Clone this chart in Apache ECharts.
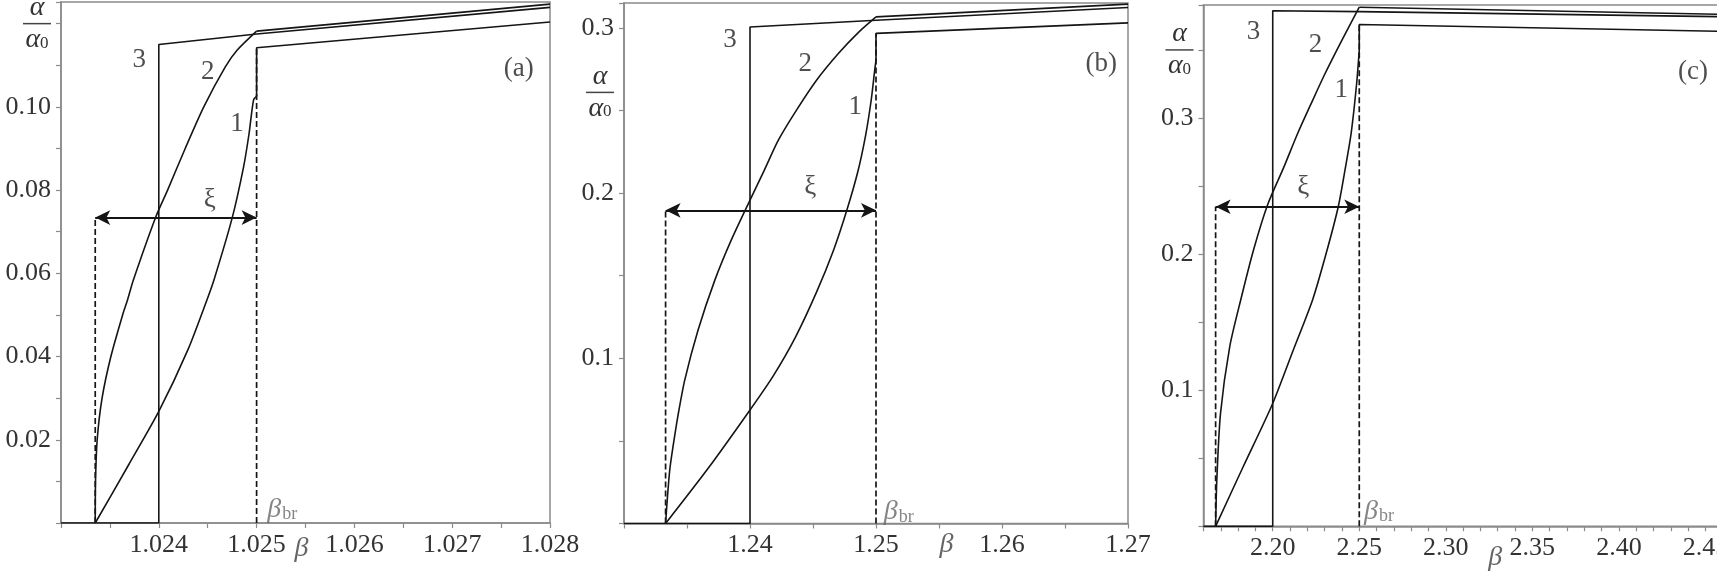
<!DOCTYPE html>
<html><head><meta charset="utf-8">
<script src="https://cdn.jsdelivr.net/npm/echarts@6/dist/echarts.min.js"></script>
<style>html,body{margin:0;padding:0;background:#fff}#c{width:1717px;height:575px}</style>
</head><body><div id="c"></div>
<script>
// ---------- Panel (a) ----------
const aCurve1 = [[1.02335,0],[1.023692,0.014],[1.024,0.0268],[1.024297,0.0416],[1.024492,0.0536],[1.024564,0.0584],[1.024749,0.0732],[1.024867,0.0856],[1.024923,0.0936],[1.024969,0.1017],[1.025,0.1025]];
const aCurve1Top = [[1.025,0.1025],[1.025,0.1142],[1.028,0.1204]];
const aCurve2 = [[1.02335,0],[1.023353,0.01],[1.02337,0.02],[1.02342,0.03],[1.02351,0.04],[1.02363,0.05],[1.02368,0.0536],[1.02374,0.0584],[1.02397,0.0736],[1.02409,0.080],[1.02427,0.090],[1.02446,0.100],[1.02468,0.1096],[1.0248,0.1136],[1.025,0.1182]];
const aCurve2Top = [[1.025,0.1182],[1.028,0.1247]];
const aCurve3 = [[1.023,0],[1.024,0],[1.024,0.1150],[1.025,0.1175],[1.028,0.1239]];
const aXi = [1.02335, 1.025];
const aArrowY = 0.0734;
const aBrTop = 0.1142;
const aNotes = [['3',1.0238,0.1112],['2',1.0245,0.1084],['1',1.0248,0.096],['ξ',1.02452,0.0776],['(a)',1.02768,0.1092]];
const aBrNote = [1.02511, 0.0032];
const aXLabels = ['1.024','1.025','1.026','1.027','1.028'];
const aYLabels = ['0.02','0.04','0.06','0.08','0.10'];
const aYFrac = 0.12;

// ---------- Panel (b) ----------
const bCurve1 = [[1.2333,0],[1.23668,0.0334],[1.24,0.0687],[1.24186,0.0895],[1.24361,0.1128],[1.24528,0.1400],[1.24663,0.1654],[1.24769,0.1897],[1.24855,0.2127],[1.24918,0.2351],[1.24962,0.2563],[1.2499,0.2745],[1.25,0.2804]];
const bCurve1Top = [[1.25,0.2804],[1.25,0.2966],[1.27,0.303]];
const bCurve2 = [[1.2333,0],[1.23343,0.0142],[1.23363,0.0324],[1.23389,0.0465],[1.23429,0.0656],[1.23482,0.0868],[1.23588,0.1171],[1.23721,0.1473],[1.23851,0.1715],[1.24,0.1957],[1.24114,0.2139],[1.24225,0.2320],[1.24369,0.2502],[1.24528,0.2683],[1.24703,0.2846],[1.24863,0.2974],[1.25,0.3066]];
const bCurve2Top = [[1.25,0.3066],[1.27,0.3143]];
const bCurve3 = [[1.23,0],[1.24,0],[1.24,0.3005],[1.25,0.3046],[1.27,0.3123]];
const bXi = [1.2333, 1.25];
const bArrowY = 0.1895;
const bBrTop = 0.2966;
const bNotes = [['3',1.23841,0.2925],['2',1.24438,0.2784],['1',1.24836,0.2521],['ξ',1.24478,0.2037],['(b)',1.26788,0.2784]];
const bBrNote = [1.25062, 0.0071];
const bXLabels = ['1.24','1.25','1.26','1.27'];
const bYLabels = ['0.1','0.2','0.3'];
const bYFrac = 0.25;

// ---------- Panel (c) ----------
const cCurve1 = [[2.167,0],[2.18312,0.0443],[2.1996,0.0891],[2.21145,0.1281],[2.22301,0.1663],[2.23081,0.2002],[2.23786,0.2348],[2.24197,0.2633],[2.24532,0.2888],[2.2485,0.3255],[2.25,0.35]];
const cCurve1Top = [[2.25,0.35],[2.25,0.3687],[2.459,0.3637]];
const cCurve2 = [[2.167,0],[2.16769,0.034],[2.16983,0.083],[2.17514,0.1319],[2.1815,0.1663],[2.1889,0.203],[2.197,0.2361],[2.20624,0.2633],[2.21445,0.2888],[2.22185,0.3096],[2.22936,0.3303],[2.23977,0.3566],[2.25,0.3814]];
const cCurve2Top = [[2.25,0.3814],[2.459,0.3762]];
const cCurve3 = [[2.16,0],[2.2,0],[2.2,0.3788],[2.25,0.3781],[2.459,0.3744]];
const cXi = [2.167, 2.25];
const cArrowY = 0.2348;
const cBrTop = 0.3687;
const cNotes = [['3',2.1889,0.3634],['2',2.2247,0.3537],['1',2.2396,0.3206],['ξ',2.2177,0.2496],['(c)',2.4428,0.334]];
const cBrNote = [2.2528, 0.0107];
const cXLabels = ['2.20','2.25','2.30','2.35','2.40','2.45'];
const cYLabels = ['0.1','0.2','0.3'];
const cYFrac = 0.35;

// ---------- styling / layout ----------
const FONT = "'Liberation Serif','DejaVu Serif',serif";
const INK = '#151515';
const AXIS = '#8a8a8a';
const TXT = '#333';

const panels = [
  {grid:{left:61,right:1167,top:2,bottom:52}, x:[1.023,1.028,0.0005], y:[0,0.1252,0.01],
   c1:aCurve1,c1t:aCurve1Top,c2:aCurve2,c2t:aCurve2Top,c3:aCurve3,xi:aXi,ay:aArrowY,br:aBrTop,notes:aNotes,brn:aBrNote,
   xl:aXLabels,yl:aYLabels,frac:aYFrac,fracShift:false,betaPad:[0,8,0,0],betaGap:12},
  {grid:{left:624,right:589,top:3,bottom:51.5}, x:[1.23,1.27,0.005], y:[0,0.315,0.05],
   c1:bCurve1,c1t:bCurve1Top,c2:bCurve2,c2t:bCurve2Top,c3:bCurve3,xi:bXi,ay:bArrowY,br:bBrTop,notes:bNotes,brn:bBrNote,
   xl:bXLabels,yl:bYLabels,frac:bYFrac,fracShift:true,betaPad:[0,0,0,141],betaGap:7},
  {grid:{left:1203.5,right:-4,top:5,bottom:48.7}, x:[2.16,2.459,0.01], y:[0,0.383,0.05],
   c1:cCurve1,c1t:cCurve1Top,c2:cCurve2,c2t:cCurve2Top,c3:cCurve3,xi:cXi,ay:cArrowY,br:cBrTop,notes:cNotes,brn:cBrNote,
   xl:cXLabels,yl:cYLabels,frac:cYFrac,fracShift:false,betaPad:[0,0,0,66],betaGap:17}
];

function pick(labels){
  return v => { const l = labels.find(s => Math.abs(parseFloat(s) - v) < 1e-7); return l || ''; };
}

const grids = [], xAxes = [], yAxes = [], series = [];
panels.forEach((p, k) => {
  grids.push(Object.assign({show:true, borderColor:AXIS, borderWidth:1.5, backgroundColor:'transparent', outerBoundsMode:'none'}, p.grid));
  xAxes.push({type:'value', gridIndex:k, min:p.x[0], max:p.x[1], interval:p.x[2],
    name:'β', nameLocation:'middle', nameGap:p.betaGap, nameMoveOverlap:false,
    nameTextStyle:{fontFamily:FONT, fontSize:28, fontStyle:'italic', color:'#666', padding:p.betaPad},
    axisLine:{show:true, onZero:false, lineStyle:{color:AXIS, width:1.5}},
    axisTick:{show:true, length:5, lineStyle:{color:AXIS, width:1.2}},
    splitLine:{show:false},
    axisLabel:{formatter:pick(p.xl), fontFamily:FONT, fontSize:26, color:TXT, margin:9, showMinLabel:true, showMaxLabel:true}
  });
  const fy = pick(p.yl);
  yAxes.push({type:'value', gridIndex:k, min:p.y[0], max:p.y[1], interval:p.y[2],
    axisLine:{show:true, onZero:false, lineStyle:{color:AXIS, width:1.5}},
    axisTick:{show:true, length:5, lineStyle:{color:AXIS, width:1.2}},
    splitLine:{show:false},
    axisLabel:{
      formatter: v => {
        if (Math.abs(v - p.frac) < 1e-7) return '{n|α}\n{bar|}\n{d|α}{s|0}' + (p.fracShift ? '\n{sp|}' : '');
        return fy(v);
      },
      fontFamily:FONT, fontSize:26, color:TXT, margin:10, showMinLabel:true, showMaxLabel:true,
      rich:{
        n:{fontFamily:FONT, fontSize:28, fontStyle:'italic', color:TXT, lineHeight:24, align:'center'},
        bar:{width:28, height:1.5, backgroundColor:'#444', lineHeight:8, align:'center'},
        d:{fontFamily:FONT, fontSize:28, fontStyle:'italic', color:TXT, lineHeight:24, align:'center'},
        s:{fontFamily:FONT, fontSize:17, color:TXT, lineHeight:24, verticalAlign:'bottom', align:'center'},
        sp:{height:36, lineHeight:36}
      }
    }
  });
  const base = {xAxisIndex:k, yAxisIndex:k, showSymbol:false, silent:true, animation:false};
  const solid = {color:INK, width:1.6};
  series.push(Object.assign({type:'line', data:p.c3, lineStyle:solid}, base));
  series.push(Object.assign({type:'line', data:p.c1, smooth:0.25, lineStyle:solid}, base));
  series.push(Object.assign({type:'line', data:p.c1t, lineStyle:solid}, base));
  series.push(Object.assign({type:'line', data:p.c2, smooth:0.25, lineStyle:solid}, base));
  series.push(Object.assign({type:'line', data:p.c2t, lineStyle:solid}, base));
  const dash = {color:INK, width:1.7, type:[6,3]};
  series.push(Object.assign({type:'line', data:[[p.xi[0],0],[p.xi[0],p.ay]], lineStyle:dash,
    markLine:{silent:true, animation:false, symbol:['arrow','arrow'], symbolSize:[11,15],
      lineStyle:{color:INK, width:2, type:'solid'}, label:{show:false},
      data:[[{coord:[p.xi[0],p.ay]},{coord:[p.xi[1],p.ay]}]]}}, base));
  series.push(Object.assign({type:'line', data:[[p.xi[1],0],[p.xi[1],p.br]], lineStyle:dash}, base));
  series.push({type:'scatter', xAxisIndex:k, yAxisIndex:k, symbolSize:0, silent:true, animation:false,
    data:p.notes.map(n => ({name:n[0], value:[n[1], n[2]]})),
    label:{show:true, position:'inside', formatter:'{b}', fontFamily:FONT, fontSize:27, color:'#222'}
  });
  series.push({type:'scatter', xAxisIndex:k, yAxisIndex:k, symbolSize:0, silent:true, animation:false,
    data:[{name:'br', value:p.brn}],
    label:{show:true, position:'right', distance:0, formatter:'{b|β}{s|br}',
      rich:{
        b:{fontFamily:FONT, fontSize:28, fontStyle:'italic', color:'#666', lineHeight:28, verticalAlign:'bottom'},
        s:{fontFamily:FONT, fontSize:18, color:'#666', lineHeight:28, verticalAlign:'bottom', padding:[0,0,0,1]}
      }}
  });
});

const chart = echarts.init(document.getElementById('c'), null, {renderer:'canvas'});
chart.setOption({animation:false, backgroundColor:'#fff', grid:grids, xAxis:xAxes, yAxis:yAxes, series:series});
</script></body></html>
